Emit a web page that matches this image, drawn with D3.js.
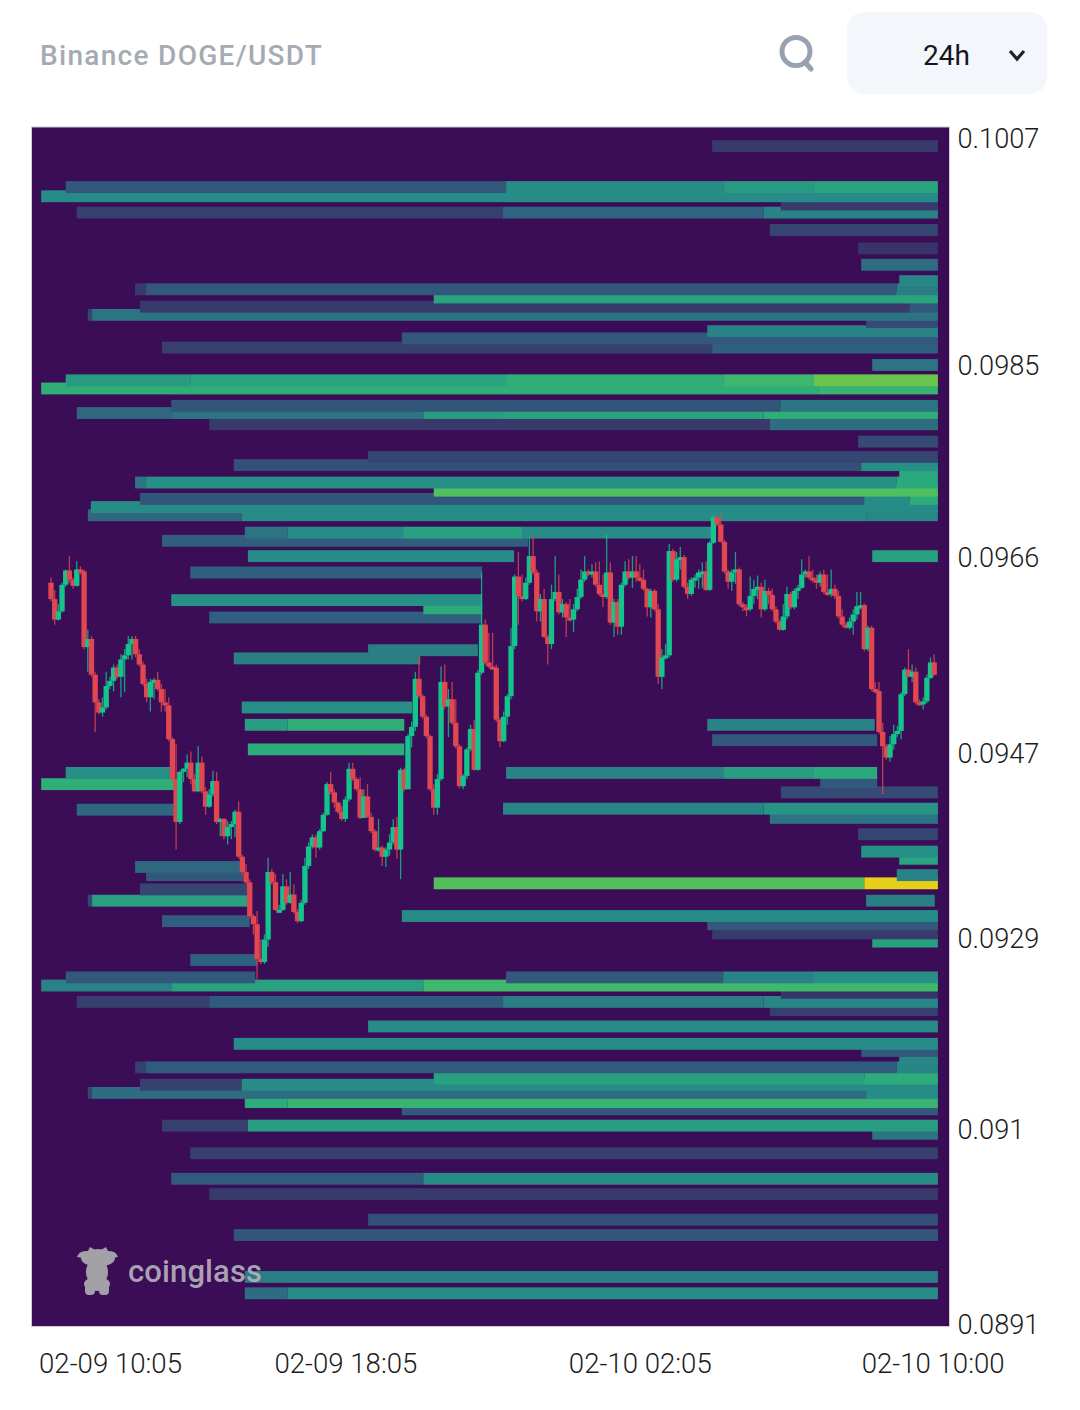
<!DOCTYPE html>
<html>
<head>
<meta charset="utf-8">
<script src="https://cdn.jsdelivr.net/npm/d3@7/dist/d3.min.js"></script>
<style>
html,body{margin:0;padding:0;background:#fff;}
svg{display:block;}
text{font-family:Roboto,"Noto Sans",sans-serif;}
</style>
</head>
<body>
<svg id="chart" width="1080" height="1410"></svg>
<script>
// Prices are in units of 0.00001 USDT; times are minutes after 02-09 10:05.
const title = "Binance DOGE/USDT";
const interval = "24h";
const watermark = "coinglass";
const yTicks = [10070, 9848, 9660, 9469, 9288, 9101, 8910];
const xTicks = [0, 480, 960, 1435];
const candleStep = 6;
const firstOpen = 9636;

const closes = [
9620,9600,9608,9634,9648,9639,9633,9649,9647,9573,
9581,9546,9519,9509,9514,9535,9540,9553,9544,9561,
9565,9576,9581,9566,9556,9537,9524,9539,9541,9532,
9519,9516,9483,9444,9402,9451,9454,9460,9444,9432,
9460,9432,9417,9429,9442,9402,9405,9388,9397,9400,
9412,9368,9353,9343,9310,9302,9268,9265,9287,9353,
9343,9316,9316,9339,9323,9331,9314,9305,9323,9359,
9378,9387,9377,9393,9409,9439,9431,9421,9412,9405,
9424,9454,9444,9434,9406,9427,9407,9393,9375,9377,
9368,9375,9382,9397,9375,9453,9434,9486,9495,9542,
9525,9505,9486,9434,9416,9444,9539,9515,9522,9499,
9476,9437,9447,9473,9493,9453,9548,9595,9558,9554,
9553,9502,9481,9505,9525,9574,9642,9623,9620,9636,
9662,9646,9608,9620,9583,9576,9620,9627,9607,9615,
9602,9600,9610,9622,9639,9647,9644,9647,9634,9625,
9622,9646,9597,9617,9593,9634,9647,9641,9647,9641,
9639,9630,9612,9628,9610,9544,9563,9565,9667,9639,
9659,9661,9632,9625,9639,9641,9646,9647,9629,9675,
9700,9693,9676,9647,9637,9646,9649,9615,9612,9610,
9623,9630,9632,9610,9628,9624,9610,9598,9590,9603,
9625,9612,9628,9631,9644,9647,9641,9639,9636,9644,
9627,9625,9630,9623,9603,9595,9592,9598,9605,9613,
9614,9571,9592,9532,9530,9490,9476,9465,9478,9488,
9491,9527,9551,9544,9549,9519,9517,9520,9543,9558,
9546];

const highs = [
9641,9629,9615,9636,9649,9662,9641,9657,9652,9649,
9590,9584,9549,9522,9524,9549,9544,9556,9556,9566,
9571,9584,9584,9584,9571,9559,9542,9542,9543,9549,
9537,9532,9524,9485,9478,9452,9455,9468,9471,9449,
9476,9466,9436,9434,9452,9451,9406,9406,9403,9403,
9414,9422,9370,9361,9346,9312,9315,9287,9292,9367,
9356,9351,9321,9351,9346,9353,9341,9317,9326,9367,
9382,9390,9390,9395,9411,9441,9451,9434,9422,9418,
9427,9460,9460,9446,9446,9434,9439,9411,9395,9405,
9379,9377,9390,9405,9407,9455,9455,9488,9500,9549,
9564,9527,9507,9488,9439,9449,9554,9556,9532,9539,
9522,9478,9449,9475,9497,9502,9551,9646,9600,9587,
9587,9556,9504,9510,9527,9592,9644,9666,9644,9641,
9681,9683,9649,9625,9630,9585,9634,9662,9644,9620,
9617,9620,9615,9630,9649,9662,9649,9654,9656,9657,
9644,9683,9656,9620,9620,9636,9657,9659,9662,9662,
9654,9649,9631,9630,9630,9615,9571,9576,9674,9669,
9666,9671,9663,9636,9641,9644,9649,9656,9657,9677,
9702,9702,9703,9678,9649,9649,9666,9651,9617,9615,
9642,9639,9643,9636,9639,9631,9630,9613,9600,9615,
9632,9627,9630,9634,9659,9649,9662,9649,9644,9647,
9649,9644,9649,9634,9628,9610,9597,9602,9610,9627,
9627,9616,9594,9594,9539,9539,9499,9478,9486,9497,
9496,9529,9553,9571,9556,9553,9522,9524,9546,9563,
9566];

const lows = [
9618,9595,9599,9607,9632,9636,9630,9632,9644,9571,
9549,9544,9490,9507,9505,9512,9532,9530,9542,9524,
9529,9561,9561,9563,9554,9535,9519,9510,9522,9530,
9510,9510,9481,9442,9375,9400,9441,9446,9439,9431,
9431,9430,9409,9416,9427,9400,9388,9385,9380,9385,
9387,9366,9351,9341,9308,9292,9248,9263,9263,9280,
9341,9315,9315,9315,9321,9322,9312,9303,9304,9321,
9356,9376,9367,9375,9392,9408,9429,9416,9410,9403,
9402,9422,9442,9432,9405,9406,9406,9391,9373,9373,
9359,9358,9369,9380,9366,9346,9432,9434,9475,9491,
9523,9503,9484,9432,9409,9409,9442,9513,9485,9497,
9474,9435,9434,9444,9471,9452,9452,9546,9556,9552,
9551,9500,9475,9480,9497,9522,9571,9595,9618,9619,
9634,9644,9598,9598,9582,9556,9571,9618,9605,9602,
9583,9598,9588,9608,9620,9637,9642,9641,9632,9623,
9612,9620,9595,9583,9585,9585,9632,9639,9631,9637,
9637,9628,9603,9602,9608,9537,9532,9561,9563,9637,
9637,9649,9630,9620,9623,9631,9630,9631,9628,9628,
9674,9691,9675,9645,9630,9628,9635,9613,9608,9603,
9608,9615,9620,9602,9608,9615,9608,9596,9589,9589,
9600,9610,9610,9620,9630,9641,9639,9636,9630,9632,
9625,9623,9622,9620,9601,9593,9591,9590,9585,9600,
9610,9569,9569,9530,9528,9488,9429,9463,9461,9473,
9485,9483,9525,9544,9539,9517,9516,9512,9518,9542,
9545];

// Liquidation levels: the price of each band, and its [from, to, intensity] runs.
const levelPrices = [
10063,10023,10014,10006,9998,9981,9963,9947,9931,9923,9915,9906,9898,9891,9882,9875,9866,9849,
9834,9826,9809,9802,9791,9774,9759,9751,9743,9734,9726,9718,9710,9702,9685,9677,9662,9662,9646,
9619,9611,9602,9570,9562,9514,9497,9497,9482,9473,9450,9450,9441,9439,9431,9415,9414,9406,9390,
9373,9366,9358,9350,9350,9342,9336,9325,9325,9310,9305,9302,9293,9285,9267,9250,9250,9242,9235,
9226,9218,9202,9185,9178,9169,9162,9151,9145,9137,9128,9121,9105,9097,9078,9053,9038,9013,8998,
8957,8941];

const levelRuns = [
[[1078,1446,.2]],
[[24,742,.33],[742,1096,.5],[1096,1244,.57],[1244,1446,.62]],
[[-16,1446,.5]],
[[1190,1446,.2]],
[[42,737,.22],[737,1162,.37],[1162,1446,.47]],
[[1172,1446,.25]],
[[1316,1446,.17]],
[[1321,1446,.4]],
[[1383,1446,.48]],
[[137,155,.2],[155,1379,.33],[1379,1446,.45]],
[[624,1446,.62]],
[[145,1400,.2],[1400,1446,.33]],
[[60,67,.25],[67,1446,.42]],
[[1329,1446,.27]],
[[1070,1446,.47]],
[[572,1446,.33]],
[[181,1078,.22],[1078,1446,.36]],
[[1339,1446,.42]],
[[24,227,.57],[227,742,.62],[742,1096,.68],[1096,1244,.75],[1244,1446,.88]],
[[-16,1252,.68],[1252,1446,.72]],
[[196,1190,.32],[1190,1446,.43]],
[[42,196,.38],[196,607,.42],[607,737,.58],[737,1162,.62],[1162,1446,.68]],
[[258,1172,.2],[1172,1446,.4]],
[[1316,1446,.27]],
[[517,1446,.25]],
[[298,1321,.3],[1321,1446,.52]],
[[1383,1446,.65]],
[[137,155,.42],[155,1379,.52],[1379,1446,.65]],
[[624,1446,.82]],
[[145,1326,.32],[1326,1400,.5],[1400,1446,.66]],
[[65,1446,.5]],
[[60,311,.38],[311,1329,.5],[1329,1446,.48]],
[[316,386,.42],[386,574,.5],[574,768,.6],[768,1083,.5]],
[[181,778,.35]],
[[321,755,.5]],
[[1339,1446,.6]],
[[227,703,.36]],
[[196,703,.52]],
[[607,703,.66]],
[[258,703,.36]],
[[517,696,.46]],
[[298,602,.46]],
[[311,589,.52]],
[[316,386,.58],[386,576,.68]],
[[1070,1343,.47]],
[[1078,1347,.33]],
[[321,576,.66]],
[[24,197,.52]],
[[742,1096,.47],[1096,1244,.58],[1244,1347,.65]],
[[1254,1347,.33]],
[[-16,201,.68]],
[[1190,1446,.27]],
[[737,1162,.48],[1162,1446,.54]],
[[42,202,.38]],
[[1172,1446,.42]],
[[1316,1446,.25]],
[[1321,1446,.52]],
[[1383,1446,.62]],
[[137,308,.38]],
[[155,313,.33]],
[[1379,1446,.47]],
[[624,1326,.83],[1326,1446,1]],
[[145,321,.25]],
[[60,67,.25],[67,321,.6]],
[[1329,1441,.46]],
[[572,1446,.5]],
[[181,324,.35]],
[[1070,1446,.33]],
[[1078,1446,.2]],
[[1339,1446,.6]],
[[227,336,.36]],
[[24,333,.33]],
[[742,1096,.33],[1096,1244,.47],[1244,1446,.52]],
[[-16,196,.47],[196,607,.6],[607,1446,.76]],
[[1190,1446,.17]],
[[42,258,.22],[258,737,.34],[737,1162,.45],[1162,1446,.48]],
[[1172,1446,.22]],
[[517,1446,.5]],
[[298,1446,.5]],
[[1321,1446,.33]],
[[1383,1446,.48]],
[[137,155,.22],[155,1379,.34],[1379,1446,.48]],
[[624,1326,.6],[1326,1446,.66]],
[[145,311,.23],[311,1446,.5]],
[[60,67,.25],[67,1329,.4],[1329,1446,.5]],
[[316,386,.66],[386,1446,.72]],
[[572,1446,.33]],
[[181,321,.22],[321,1446,.58]],
[[1339,1446,.42]],
[[227,1446,.22]],
[[196,607,.34],[607,1446,.5]],
[[258,1446,.2]],
[[517,1446,.3]],
[[298,1446,.32]],
[[316,1446,.45]],
[[316,386,.4],[386,1446,.5]]
];

const intensityStops = [0, .2, .35, .5, .65, .8, .9, 1];
const intensityColors = ["#3b0d57","#383a6c","#315d7e","#278c88","#2aaa7c","#47bd66","#74c647","#e5cf18"];

const svg = d3.select("#chart");
const startTime = new Date(2023, 1, 9, 10, 5);
const at = m => d3.timeMinute.offset(startTime, m);
const x = d3.scaleTime().domain([at(0), at(1440)]).range([51, 934.2]);
const y = d3.scaleLinear().domain([10070, 8910]).range([139, 1325]);
const color = d3.scaleLinear().domain(intensityStops).range(intensityColors);
const bandHalf = 5.8;

// header
svg.append("text").attr("x", 40).attr("y", 65).attr("font-size", 28).attr("font-weight", 500)
  .attr("letter-spacing", 1.3).attr("fill", "#a6abb3").text(title);
const search = svg.append("g").attr("fill", "none").attr("stroke", "#98a1af").attr("stroke-width", 5);
search.append("circle").attr("cx", 796).attr("cy", 51.5).attr("r", 14);
search.append("path").attr("d", d3.line()([[805, 62], [811, 69]])).attr("stroke-linecap", "round");
svg.append("rect").attr("x", 847).attr("y", 12).attr("width", 200).attr("height", 82).attr("rx", 17).attr("fill", "#f3f6fa");
svg.append("text").attr("x", 923).attr("y", 65).attr("font-size", 28).attr("fill", "#14161a").text(interval);
svg.append("path").attr("d", d3.line()([[1010, 51], [1017, 59], [1024, 51]])).attr("fill", "none")
  .attr("stroke", "#1c2230").attr("stroke-width", 3.2);

// plot background
svg.append("rect").attr("x", 31.5).attr("y", 127).attr("width", 918).attr("height", 1199.5)
  .attr("fill", "#3b0d57").attr("stroke", "#cfc8d6").attr("stroke-width", 1);

// heatmap, upper bands painted last
const levels = levelPrices.map((price, i) => ({price, runs: levelRuns[i], i}))
  .sort((a, b) => d3.ascending(a.price, b.price));
const levelG = svg.append("g").selectAll("g").data(levels).join("g");
levelG.selectAll("rect").data(d => d.runs.map(r => ({price: d.price, from: r[0], to: r[1], v: r[2]}))).join("rect")
  .attr("x", d => x(at(d.from)))
  .attr("width", d => x(at(d.to)) - x(at(d.from)))
  .attr("y", d => y(d.price + bandHalf))
  .attr("height", d => y(d.price - bandHalf) - y(d.price + bandHalf))
  .attr("fill", d => color(d.v));

// candles
const candles = closes.map((c, i) => ({
  t: at(i * candleStep), open: i ? closes[i - 1] : firstOpen, close: c, high: highs[i], low: lows[i]
}));
const up = "#13c48c", down = "#e04750";
const bodyW = (x(at(candleStep)) - x(at(0))) * 1.45;
const cg = svg.append("g").selectAll("g").data(candles).join("g");
cg.append("line")
  .attr("x1", d => x(d.t)).attr("x2", d => x(d.t))
  .attr("y1", d => y(d.high)).attr("y2", d => y(d.low))
  .attr("stroke", d => d.close >= d.open ? up : down).attr("stroke-width", 1.3).attr("stroke-opacity", .8);
cg.append("rect")
  .attr("x", d => x(d.t) - bodyW / 2).attr("width", bodyW)
  .attr("y", d => y(Math.max(d.open, d.close)))
  .attr("height", d => Math.max(3, Math.abs(y(d.close) - y(d.open))))
  .attr("fill", d => d.close >= d.open ? up : down);

// axes
const yAxis = d3.axisRight(y).tickValues(yTicks).tickSize(0).tickPadding(0)
  .tickFormat(v => String(+(v / 1e5).toFixed(4)));
svg.append("g").attr("transform", "translate(957.5,0)").call(yAxis)
  .call(g => g.select(".domain").remove())
  .selectAll("text").attr("font-size", 27.2).attr("font-family", "Roboto,sans-serif").attr("font-weight", 300).attr("fill", "#1c1c1c");

const xAxis = d3.axisBottom(x).tickValues(xTicks.map(at)).tickSize(0).tickPadding(0)
  .tickFormat(d3.timeFormat("%m-%d %H:%M"));
svg.append("g").attr("transform", "translate(0,1353.5)").call(xAxis)
  .call(g => g.select(".domain").remove())
  .selectAll("text").attr("font-size", 27.6).attr("font-family", "Roboto,sans-serif").attr("font-weight", 300).attr("fill", "#1c1c1c")
  .attr("dx", (d, i) => i === 0 ? 59 : i === 3 ? 1.5 : 0);

// watermark
const logo = svg.append("g").attr("fill", "#a9a9ad").attr("opacity", .95);
logo.append("ellipse").attr("cx", 98).attr("cy", 1258).attr("rx", 17).attr("ry", 9);
logo.append("path").attr("d", "M77 1257 Q79 1250 88 1251 L90 1259 Z M118 1257 Q116 1250 107 1251 L105 1259 Z M88 1251 L90 1247 L95 1250 Z M108 1251 L106 1247 L101 1250 Z");
logo.append("ellipse").attr("cx", 97).attr("cy", 1272).attr("rx", 11).attr("ry", 13);
logo.append("ellipse").attr("cx", 97).attr("cy", 1284).attr("rx", 13).attr("ry", 7);
logo.append("rect").attr("x", 85).attr("y", 1284).attr("width", 10).attr("height", 11).attr("rx", 4);
logo.append("rect").attr("x", 99).attr("y", 1284).attr("width", 10).attr("height", 11).attr("rx", 4);
svg.append("text").attr("x", 128).attr("y", 1282).attr("font-size", 31).attr("font-weight", 500)
  .attr("fill", "#b4b2ba").attr("fill-opacity", .92).attr("textLength", 134).text(watermark);
</script>
</body>
</html>
